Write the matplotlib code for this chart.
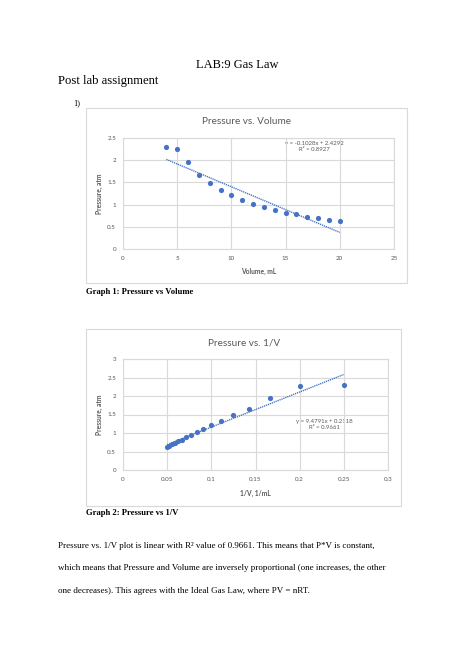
import matplotlib
matplotlib.use("Agg")
import matplotlib.pyplot as plt
from matplotlib.patches import Rectangle
from matplotlib.ticker import FuncFormatter
import numpy as np

# ---------------- data ----------------
volume_ml = [4, 5, 6, 7, 8, 9, 10, 11, 12, 13, 14, 15, 16, 17, 18, 19, 20]
pressure_atm = [2.30, 2.26, 1.95, 1.66, 1.48, 1.32, 1.21, 1.11, 1.02, 0.94,
                0.88, 0.82, 0.78, 0.73, 0.69, 0.66, 0.63]
inv_volume = [1.0 / v for v in volume_ml]

fit1_slope, fit1_intercept, fit1_r2 = -0.1028, 2.4292, 0.8927
fit2_slope, fit2_intercept, fit2_r2 = 9.4791, 0.2118, 0.9661

x1_ticks = [0, 5, 10, 15, 20, 25]
y1_ticks = [0, 0.5, 1, 1.5, 2, 2.5]
x2_ticks = [0, 0.05, 0.1, 0.15, 0.2, 0.25, 0.3]
y2_ticks = [0, 0.5, 1, 1.5, 2, 2.5, 3]

paragraph = [
    "Pressure vs. 1/V plot is linear with R\u00b2 value of 0.9661. This means that P*V is constant,",
    "which means that Pressure and Volume are inversely proportional (one increases, the other",
    "one decreases). This agrees with the Ideal Gas Law, where PV = nRT.",
]

# ---------------- style ----------------
W, H = 474, 670
BLUE = "#4472C4"
GRID = "#D9D9D9"
GRAYTXT = "#595959"
CHART_FONT = ["Lato", "DejaVu Sans"]
DOC_FONT = ["Liberation Serif", "DejaVu Serif"]

fig = plt.figure(figsize=(W / 100, H / 100), dpi=100)
fig.patch.set_facecolor("white")


def fx(px):
    return px / W


def fy(py):
    return 1 - py / H


def frame(x0, y0, x1, y1):
    fig.patches.append(Rectangle((fx(x0), fy(y1)), fx(x1) - fx(x0), fy(y0) - fy(y1),
                                 transform=fig.transFigure, facecolor="none",
                                 edgecolor=GRID, linewidth=0.8, zorder=-10))


def gfmt(v, pos):
    return "%g" % round(v, 4)


def make_chart(box, x, y, xticks, yticks, slope, intercept, r2, title, xlabel,
               title_y, eq_xy, xlab_y):
    left, top, right, bottom = box
    ax = fig.add_axes([fx(left), fy(bottom), fx(right) - fx(left), fy(top) - fy(bottom)])
    ax.set_zorder(5)
    ax.patch.set_alpha(0)
    ax.set_xlim(xticks[0], xticks[-1])
    ax.set_ylim(yticks[0], yticks[-1])
    ax.set_xticks(xticks)
    ax.set_yticks(yticks)
    ax.xaxis.set_major_formatter(FuncFormatter(gfmt))
    ax.yaxis.set_major_formatter(FuncFormatter(gfmt))
    ax.grid(True, color=GRID, linewidth=0.8)
    ax.set_axisbelow(True)
    for s in ax.spines.values():
        s.set_color(GRID)
        s.set_linewidth(0.8)
    ax.tick_params(length=0, labelsize=4.5, labelcolor=GRAYTXT, pad=5)
    for lab in ax.get_xticklabels() + ax.get_yticklabels():
        lab.set_family(CHART_FONT)
    ax.scatter(x, y, s=14, color=BLUE, zorder=3, linewidths=0)
    xs = np.array([min(x), max(x)])
    ax.plot(xs, slope * xs + intercept, linestyle=(0, (0.9, 0.6)), color=BLUE,
            linewidth=1.0, zorder=2)
    ax.set_ylabel("Pressure, atm", fontsize=4.8, fontweight="bold", color=GRAYTXT,
                  family=CHART_FONT, labelpad=3)
    cx = (left + right) / 2
    fig.text(fx(cx), fy(xlab_y), xlabel, ha="center", va="center", fontsize=4.8,
             fontweight="bold", color=GRAYTXT, family=CHART_FONT)
    fig.text(fx(title_y[0]), fy(title_y[1]), title, ha="center", va="center",
             fontsize=7.2, color=GRAYTXT, family=CHART_FONT)
    sign = "+" if intercept >= 0 else "-"
    eq = "y = %gx %s %g" % (slope, sign, abs(intercept))
    fig.text(fx(eq_xy[0]), fy(eq_xy[1]), eq + "\nR\u00b2 = %g" % r2, ha="center",
             va="center", fontsize=4.3, color=GRAYTXT, family=CHART_FONT,
             linespacing=1.3)
    return ax


# ---------------- document text ----------------
fig.text(fx(237), fy(65), "LAB:9 Gas Law", ha="center", va="center", fontsize=9,
         family=DOC_FONT)
fig.text(fx(58), fy(81), "Post lab assignment", ha="left", va="center", fontsize=9.1,
         family=DOC_FONT)
fig.text(fx(73), fy(103), "1)", ha="left", va="center", fontsize=6, family=DOC_FONT)

# chart 1
frame(86, 108, 407, 283)
make_chart((123, 138, 394, 249), volume_ml, pressure_atm, x1_ticks, y1_ticks,
           fit1_slope, fit1_intercept, fit1_r2, "Pressure vs. Volume", "Volume, mL",
           (246, 122), (314, 146.5), 271)
fig.text(fx(86), fy(292), "Graph 1: Pressure vs Volume", ha="left", va="center",
         fontsize=6.2, fontweight="bold", family=DOC_FONT)

# chart 2
frame(86, 329, 401, 506)
make_chart((123, 359, 388, 470), inv_volume, pressure_atm, x2_ticks, y2_ticks,
           fit2_slope, fit2_intercept, fit2_r2, "Pressure vs. 1/V", "1/V, 1/mL",
           (244, 343), (324, 424.5), 493)
fig.text(fx(86), fy(513), "Graph 2: Pressure vs 1/V", ha="left", va="center",
         fontsize=6.2, fontweight="bold", family=DOC_FONT)

# paragraph
for i, line in enumerate(paragraph):
    fig.text(fx(58), fy(546 + i * 22.5), line, ha="left", va="center", fontsize=6.5,
             family=DOC_FONT)

fig.savefig("out.png", dpi=100, facecolor="white")
